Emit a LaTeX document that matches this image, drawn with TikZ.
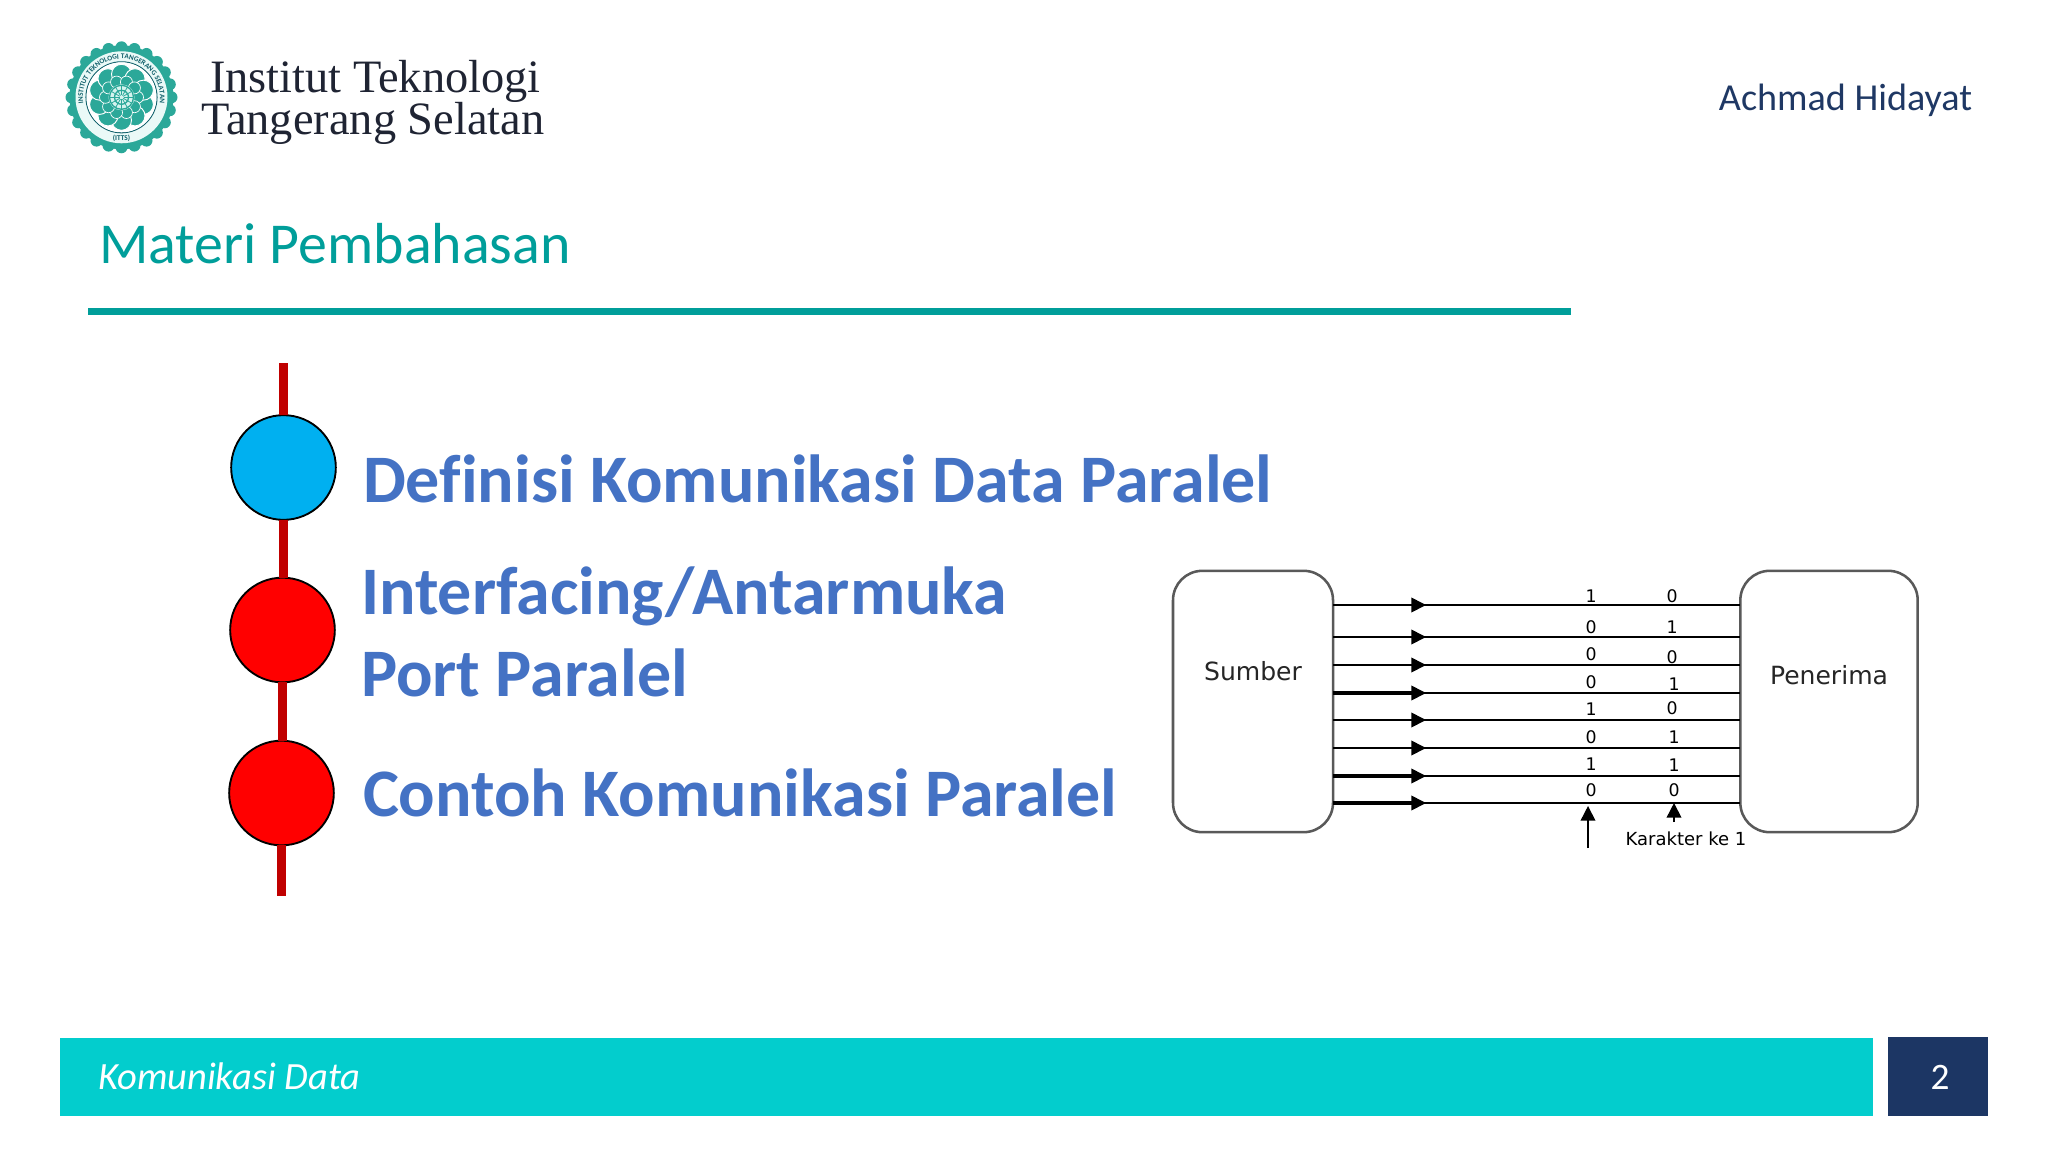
\documentclass[tikz,border=0pt]{standalone}
\usepackage{fontspec}
\setmainfont[Ligatures=NoCommon]{Carlito}
\newfontfamily\logofont{Liberation Serif}
\newfontfamily\diagfont{DejaVu Sans}
\usetikzlibrary{arrows.meta,decorations.text,calc}
\definecolor{teal1}{HTML}{009E9A}
\definecolor{navy1}{HTML}{1F3864}
\definecolor{barcol}{HTML}{03CDCD}
\definecolor{numcol}{HTML}{1C3664}
\definecolor{itemblue}{HTML}{4472C4}
\definecolor{linered}{HTML}{C00000}
\definecolor{skyfill}{HTML}{00B0F0}
\definecolor{logoteal}{HTML}{2BA899}
\definecolor{logodark}{HTML}{0F5F6A}
\definecolor{logopale}{HTML}{D5F3EE}
\definecolor{logotext}{HTML}{1F2433}
\newcommand{\fs}[1]{\fontsize{#1}{#1}\selectfont}
\tikzset{
  x=0.75pt,y=-0.75pt,
  txt/.style={inner sep=0pt,outer sep=0pt,anchor=base west},
  item/.style={txt,text=itemblue,font=\fs{51}\bfseries},
  logoline/.style={txt,text=logotext,font=\logofont\fs{34.8}},
  dot/.style={circle,draw=black,line width=1.4pt,minimum size=78.5pt,inner sep=0pt,outer sep=0pt},
  spine/.style={draw=linered,line width=6.8pt},
  endbox/.style={rectangle,draw=black!65,line width=1.9pt,rounded corners=22pt,inner sep=0pt,outer sep=0pt,fill=white},
  wire/.style={draw=black,line width=1.2pt},
  bold wire/.style={draw=black,line width=2.4pt},
  headarrow/.style={-{Triangle[length=11pt,width=11pt]},line width=1.2pt},
  bit/.style={inner sep=0pt,font=\diagfont\fs{13},text=black},
  difflabel/.style={inner sep=0pt,font=\diagfont\fs{18.8},text=black!85},
}
\begin{document}
\begin{tikzpicture}
\useasboundingbox (0,0) rectangle (2048,1152);
% logo
\begin{scope}[shift={(121.5,97.3)}]
  \foreach \a in {0,15,...,345} \fill[logoteal] (\a:50) circle[radius=6];
  \fill[logoteal] (0,0) circle[radius=52];
  \fill[logopale!50!white] (0,0) circle[radius=46];
  \draw[logodark,line width=0.8pt] (0,0) circle[radius=35.5];
  \fill[white] (0,0) circle[radius=35];
  \foreach \a in {0,36,...,324} \filldraw[fill=logoteal,draw=white,line width=0.7pt] (\a+18:23) circle[radius=10];
  \foreach \a in {0,36,...,324} \filldraw[fill=logoteal,draw=white,line width=0.5pt] (\a:16) circle[radius=6];
  \fill[logopale] (0,0) circle[radius=13];
  \draw[logoteal,line width=1pt] (0,0) circle[radius=12];
  \draw[logoteal,line width=1pt] (0,0) circle[radius=7];
  \foreach \a in {0,30,...,330} \draw[logoteal,line width=0.6pt] (\a:2) -- (\a:12);
  \path[decorate,decoration={text along path,text align=center,text={|\fontsize{5.4}{5.4}\selectfont\bfseries\color{logodark}|INSTITUT TEKNOLOGI TANGERANG SELATAN}}]
    (163:38.5) arc[start angle=163,end angle=377,radius=38.5];
  \node[inner sep=0pt,font=\fs{5.5}\bfseries,text=logodark] at (0,41) {(ITTS)};
\end{scope}
\node[logoline] (inst1) at (210,93) {Institut Teknologi};
\node[logoline] (inst2) at (201,135) {Tangerang Selatan};
\node[txt,anchor=base east,text=navy1,font=\fs{28.6}] (author) at (1972,111) {Achmad Hidayat};
\node[txt,text=teal1,font=\fs{43.4}] (title) at (99,263) {Materi Pembahasan};
\fill[teal1] (88,308) rectangle (1571,314.5);
% timeline
\node[dot,fill=skyfill] (c1) at (283.5,467.5) {};
\node[dot,fill=red] (c2) at (282.5,630) {};
\node[dot,fill=red] (c3) at (281.5,793) {};
\coordinate (top) at (283.5,363);
\coordinate (bottom) at (281,896);
\draw[spine] (top) -- (c1.north);
\draw[spine] (c1.south) -- (c1.south |- c2.north);
\draw[spine] (c2.south) -- (c2.south |- c3.north);
\draw[spine] (c3.south) -- (c3.south |- bottom);
\node[item] (t1) at (363,502) {Definisi Komunikasi Data Paralel};
\node[item] (t2) at (361,614) {Interfacing/Antarmuka};
\node[item] (t3) at (361,696) {Port Paralel};
\node[item] (t4) at (363,816) {Contoh Komunikasi Paralel};
% parallel diagram
\node[endbox,minimum width=120pt,minimum height=196pt] (src) at (1253,701.5) {};
\node[endbox,minimum width=133pt,minimum height=196pt] (dst) at (1829,701.5) {};
\node[difflabel] (lsrc) at (1253,671) {Sumber};
\node[difflabel] (ldst) at (1829,675) {Penerima};
\foreach \y/\w in {605/wire,637/wire,665/wire,693/bold wire,720/wire,748/wire,776/bold wire,803/bold wire}{
  \coordinate (a) at (src.east |- 0,\y);
  \coordinate (b) at (dst.west |- 0,\y);
  \coordinate (h) at (1426,\y);
  \draw[wire] (a) -- (b);
  \draw[\w] (a) -- (1412,\y);
  \draw[headarrow] (1400,\y) -- (h);
}
\foreach \x/\y/\t in {1591/596/1,1591/627/0,1591/654/0,1591/682/0,1591/709/1,1591/737/0,1591/764/1,1591/790/0,
  1672/596/0,1672/627/1,1672/657/0,1674/684/1,1672/708/0,1674/737/1,1674/765/1,1674/790/0}
  \node[bit] at (\x,\y) {\t};
\coordinate (u1a) at (1588,848);
\coordinate (u1b) at (1588,806);
\coordinate (u2a) at (1674,822);
\coordinate (u2b) at (1674,803);
\draw[headarrow] (u1a) -- (u1b);
\draw[headarrow] (u2a) -- (u2b);
\node[bit,font=\diagfont\fs{13.5}] (kar) at (1686,839) {Karakter ke 1};
% footer
\fill[barcol] (60,1038) rectangle (1873,1116);
\fill[numcol] (1888,1037) rectangle (1988,1116);
\node[txt,text=white,font=\fs{28.9}\itshape] (foot) at (98,1089) {Komunikasi Data};
\node[inner sep=0pt,text=white,font=\fs{28}] (num) at (1940,1077) {2};
\end{tikzpicture}
\end{document}
